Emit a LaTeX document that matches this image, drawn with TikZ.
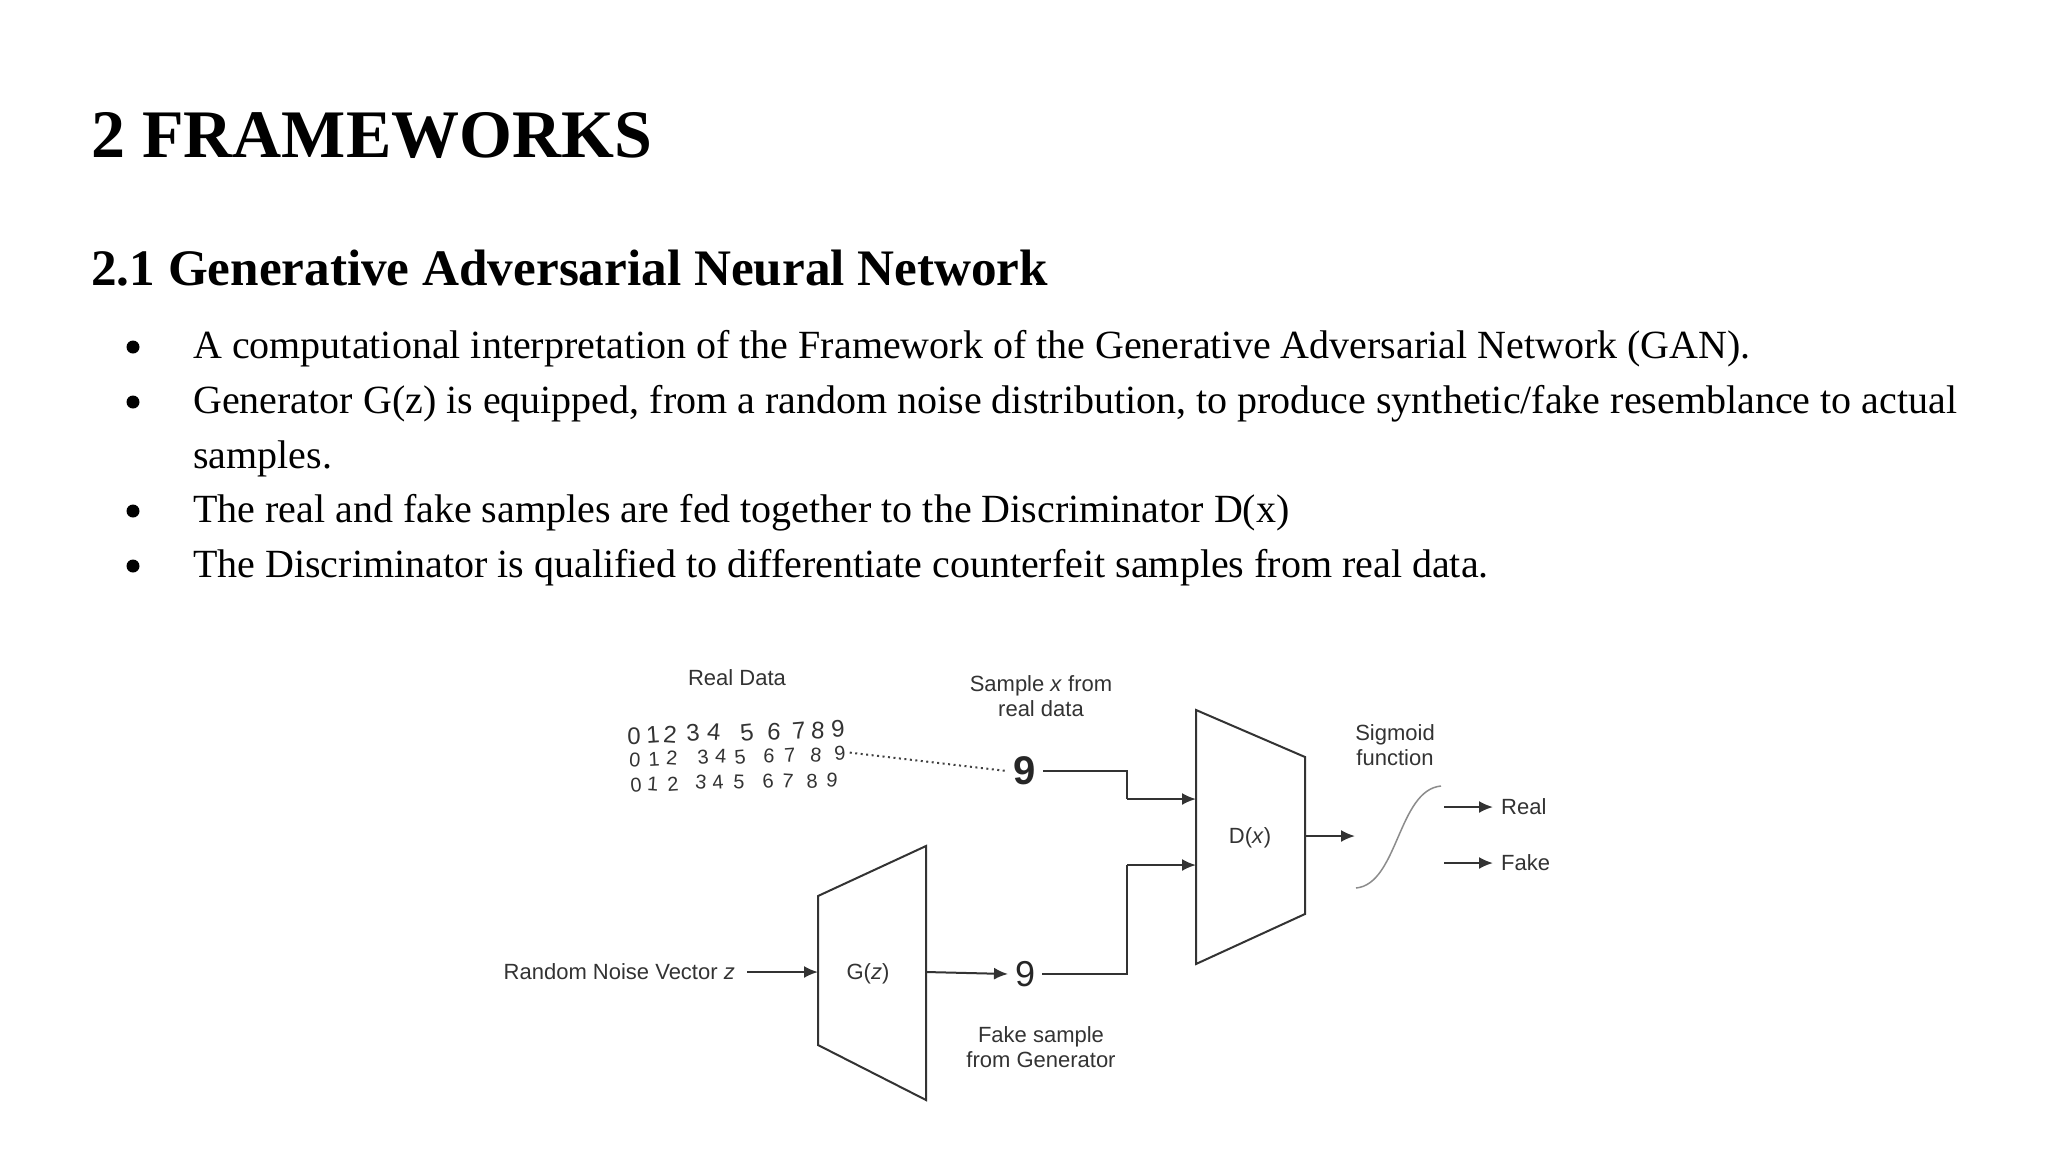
\documentclass[tikz,border=0pt]{standalone}
\usepackage{fontspec}
\setmainfont{Liberation Serif}
\newfontfamily\dsans{Liberation Sans}
\usetikzlibrary{arrows.meta,calc}
\begin{document}
\begin{tikzpicture}[x=1pt,y=-1pt,
  headA/.style={anchor=base west,inner sep=0pt,font=\fontsize{68}{78}\selectfont\bfseries},
  headB/.style={anchor=base west,inner sep=0pt,font=\fontsize{51.2}{60}\selectfont\bfseries},
  body/.style={anchor=base west,inner sep=0pt,font=\fontsize{40}{50}\selectfont},
  bul/.style={circle,fill=black,inner sep=0pt,minimum size=13pt},
  lbl/.style={inner sep=0pt,font=\dsans\fontsize{22}{25.5}\selectfont,text=black!80,align=center},
  digit/.style={inner sep=0pt,font=\dsans\fontsize{24}{24}\selectfont,text=black!80},
  sdigit/.style={inner sep=0pt,font=\dsans\fontsize{20}{20}\selectfont,text=black!80},
  big9/.style={inner sep=0pt,outer sep=7pt,font=\dsans\bfseries\fontsize{40}{40}\selectfont,text=black!85},
  wire/.style={line width=2pt,draw=black!80},
  arr/.style={wire,-{Latex[length=14pt,width=12pt]}},
  trap/.style={line width=2pt,draw=black!80}
]
\useasboundingbox (0,0) rectangle (2048,1152);
\fill[white] (0,0) rectangle (2048,1152);

% headings
\node[headA] (h1) at (91,157) {2 FRAMEWORKS};
\node[headB] (h2) at (91,285) {2.1 Generative Adversarial Neural Network};

% bullets
\node[bul] (b1) at (133,347) {};
\node[bul] (b2) at (133,402) {};
\node[bul] (b4) at (133,511) {};
\node[bul] (b5) at (133,566) {};
\node[body] (t1) at (193,358) {A computational interpretation of the Framework of the Generative Adversarial Network (GAN).};
\node[body] (t2) at (193,413) {Generator G(z) is equipped, from a random noise distribution, to produce synthetic/fake resemblance to actual};
\node[body] (t3) at (193,468) {samples.};
\node[body] (t4) at (193,522) {The real and fake samples are fed together to the Discriminator D(x)};
\node[body] (t5) at (193,577) {The Discriminator is qualified to differentiate counterfeit samples from real data.};

% real data digits
\node[lbl] (rd) at (737,678) {Real Data};
\foreach \d/\x/\r/\dy in {0/634/0/2,1/653/4/1,2/670/-4/1,3/693/4/-1,4/714/-5/-2,5/747/6/-1,6/774/-4/-2,7/799/5/-3,8/818/-3/-3,9/838/4/-5}
  \node[digit,rotate=\r] (ra\d) at (\x,734+\dy) {\d};
\foreach \d/\x/\r/\dy in {0/635/-4/3,1/654/3/2,2/672/-4/1,3/703/5/0,4/721/-4/-1,5/740/5/0,6/769/-3/-1,7/790/4/-2,8/816/-5/-2,9/840/4/-4}
  \node[sdigit,rotate=\r] (rb\d) at (\x,757+\dy) {\d};
\foreach \d/\x/\r/\dy in {0/636/5/3,1/653/-4/2,2/673/4/2,3/701/-5/0,4/718/4/0,5/739/-3/0,6/768/5/-1,7/788/-4/-1,8/812/3/-1,9/832/-5/-2}
  \node[sdigit,rotate=\r] (rc\d) at (\x,782+\dy) {\d};

% sample from real data
\node[lbl] (sx) at (1041,696) {Sample \textit{x} from\\real data};
\node[big9] (r9) at (1025,771) {9};
\draw[line width=2pt,draw=black!75,dash pattern=on 2pt off 3.5pt] (rb9.east) ++(4,0) -- (r9.west);

% discriminator
\coordinate (D1) at (1196,710);
\coordinate (D2) at (1305,757);
\coordinate (D3) at (1305,914);
\coordinate (D4) at (1196,964);
\draw[trap] (D1) -- (D2) -- (D3) -- (D4) -- cycle;
\node[lbl] (dx) at (1250,838) {D(\textit{x})};
\coordinate (Din1) at (1196,799);
\coordinate (Din2) at (1196,865);
\coordinate (k1) at (1127,799);
\coordinate (k2) at (1127,865);
\draw[wire] (r9.east) -| (k1);
\draw[arr] (k1) -- (Din1);

% generator
\coordinate (G1) at (818,896);
\coordinate (G2) at (926,846);
\coordinate (G3) at (926,1100);
\coordinate (G4) at (818,1045);
\draw[trap] (G1) -- (G2) -- (G3) -- (G4) -- cycle;
\node[lbl] (gz) at (868,974) {G(\textit{z})};
\node[lbl,anchor=east] (rn) at (735,972) {Random Noise Vector \textit{z}};
\coordinate (Gin) at (818,972);
\coordinate (Gout) at (926,972);
\draw[arr] (rn.east) ++(12,0) -- (Gin);
\node[big9,font=\dsans\fontsize{36}{36}\selectfont] (f9) at (1025,974) {9};
\draw[arr] (Gout) -- (f9.west);
\draw[wire] (f9.east) -| (k2);
\draw[arr] (k2) -- (Din2);
\node[lbl] (fs) at (1041,1047) {Fake sample\\from Generator};

% sigmoid and outputs
\coordinate (Dout) at (1305,836);
\coordinate (sg0) at (1356,888);
\coordinate (sg1) at (1441,786);
\draw[arr] (Dout) -- (1355,836);
\draw[line width=1.5pt,draw=black!45] (sg0) .. controls (1398,884) and (1398,790) .. (sg1);
\node[lbl] (sf) at (1395,745) {Sigmoid\\function};
\node[lbl,anchor=west] (real) at (1501,807) {Real};
\node[lbl,anchor=west] (fake) at (1501,863) {Fake};
\coordinate (ra) at (1444,807);
\coordinate (fa) at (1444,863);
\draw[arr,shorten >=8pt] (ra) -- (real.west);
\draw[arr,shorten >=8pt] (fa) -- (fake.west);
\end{tikzpicture}
\end{document}
